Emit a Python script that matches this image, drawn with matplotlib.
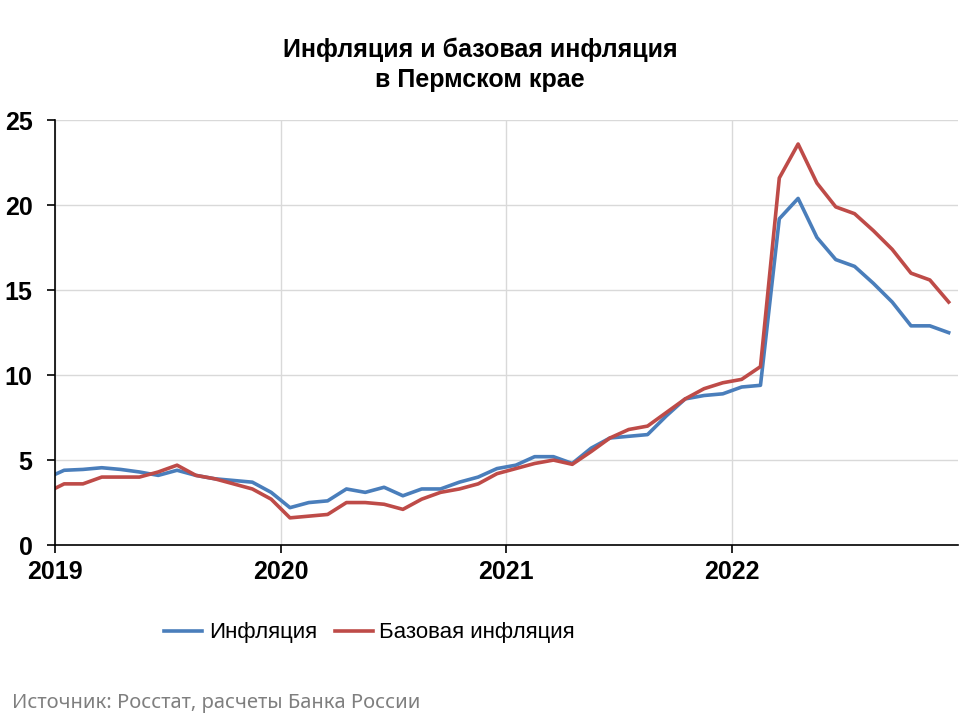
import matplotlib
matplotlib.use("Agg")
import matplotlib.pyplot as plt
import numpy as np

months = np.arange(-1, 48)  # Dec 2018 .. Dec 2022
inflation = [3.9,
    4.4, 4.45, 4.55, 4.45, 4.3, 4.1, 4.4, 4.1, 3.9, 3.8, 3.7, 3.1,
    2.2, 2.5, 2.6, 3.3, 3.1, 3.4, 2.9, 3.3, 3.3, 3.7, 4.0, 4.5,
    4.7, 5.2, 5.2, 4.8, 5.7, 6.3, 6.4, 6.5, 7.6, 8.6, 8.8, 8.9,
    9.3, 9.4, 19.2, 20.4, 18.1, 16.8, 16.4, 15.4, 14.3, 12.9, 12.9, 12.5]
core = [3.05,
    3.6, 3.6, 4.0, 4.0, 4.0, 4.3, 4.7, 4.1, 3.9, 3.6, 3.3, 2.7,
    1.6, 1.7, 1.8, 2.5, 2.5, 2.4, 2.1, 2.7, 3.1, 3.3, 3.6, 4.2,
    4.5, 4.8, 5.0, 4.75, 5.5, 6.3, 6.8, 7.0, 7.8, 8.6, 9.2, 9.55,
    9.75, 10.5, 21.6, 23.6, 21.3, 19.9, 19.5, 18.5, 17.4, 16.0, 15.6, 14.3]
years = [2019, 2020, 2021, 2022]

x = 2019 + (months + 0.5) / 12

fig = plt.figure(figsize=(9.6, 7.2), dpi=100)
ax = fig.add_axes([0.057, 0.243, 0.941, 0.590])
ax.plot(x, inflation, color="#4A7EBB", lw=2.6, label="Инфляция")
ax.plot(x, core, color="#BE4B48", lw=2.6, label="Базовая инфляция")
ax.set_xlim(2019, 2023)
ax.set_ylim(0, 25)
ax.set_xticks(years)
ax.set_xticklabels([str(y) for y in years])
ax.set_yticks([0, 5, 10, 15, 20, 25])
ax.grid(True, color="#D9D9D9", lw=1)
ax.set_axisbelow(True)
for s in ["top", "right"]:
    ax.spines[s].set_visible(False)
for s in ["left", "bottom"]:
    ax.spines[s].set_color("black")
    ax.spines[s].set_linewidth(1.2)
ax.tick_params(axis="both", direction="out", length=6, width=1.2, color="black", pad=5)
for lab in ax.get_xticklabels() + ax.get_yticklabels():
    lab.set_fontfamily("Liberation Sans")
    lab.set_fontweight("bold")
    lab.set_fontsize(18)
ax.tick_params(axis="y", pad=10)

fig.text(0.5, 0.91, "Инфляция и базовая инфляция\nв Пермском крае", ha="center", va="center",
         fontfamily="Liberation Sans", fontweight="bold", fontsize=18, linespacing=1.3)
leg = fig.legend(loc="center", bbox_to_anchor=(0.385, 0.121), ncol=2, frameon=False,
                 prop={"family": "Liberation Sans", "size": 16}, handlelength=1.7, columnspacing=0.8, handletextpad=0.3)
fig.text(0.012, 0.01, "Источник: Росстат, расчеты Банка России", color="#7F7F7F",
         fontfamily="Noto Sans", fontsize=14.5, va="bottom")
fig.savefig("out.png", dpi=100)
